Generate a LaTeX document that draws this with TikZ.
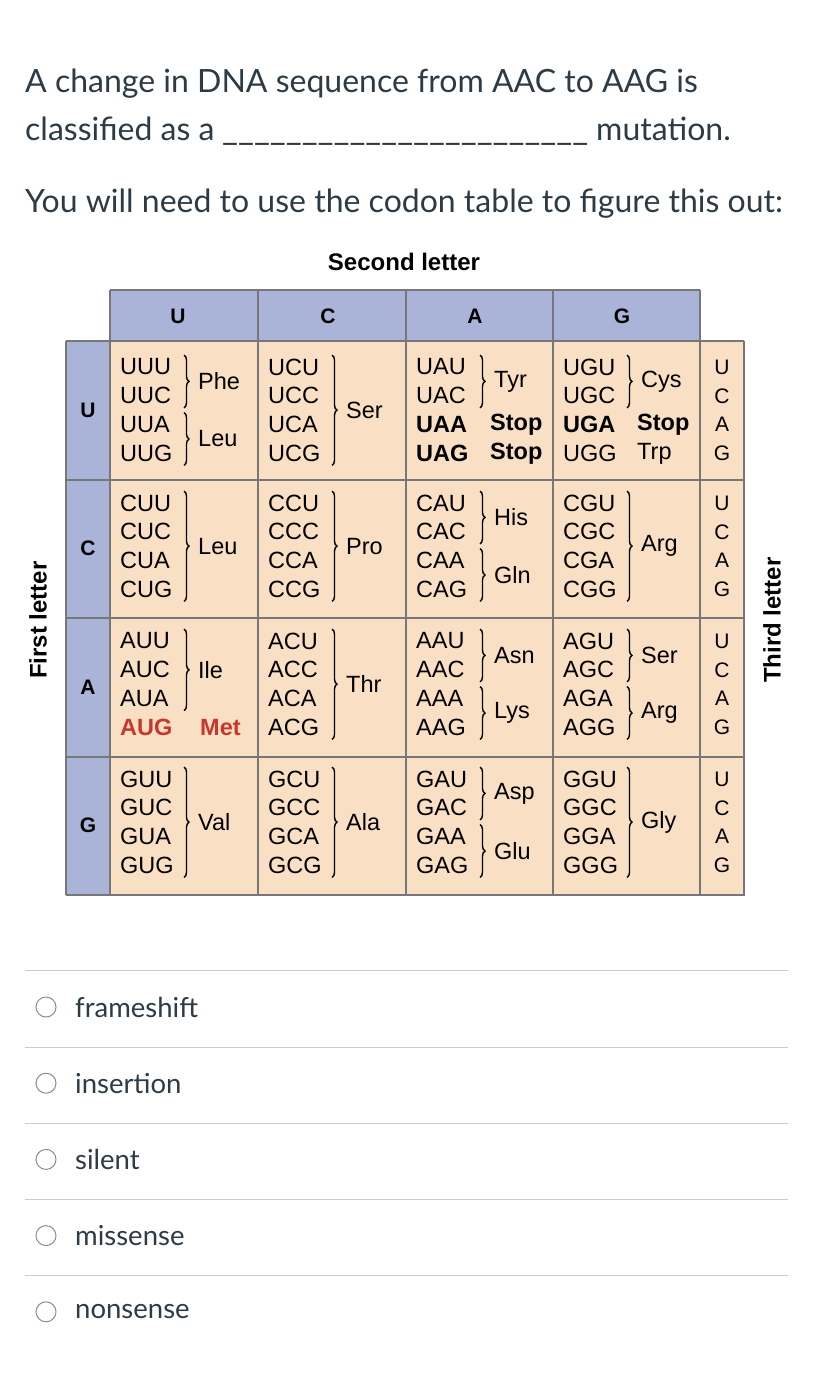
\documentclass[tikz,border=0pt]{standalone}
\usepackage{fontspec}
\setmainfont{Lato}
\newfontfamily\ar{Liberation Sans}
\usetikzlibrary{decorations.pathreplacing}
\definecolor{qtext}{HTML}{2D3B45}
\definecolor{hblue}{HTML}{AAB4D9}
\definecolor{peach}{HTML}{F9DFC4}
\definecolor{bord}{HTML}{777777}
\definecolor{metred}{HTML}{C8372D}
\newcommand\codons[5]{%
  \foreach \c [count=\i from 0] in {#3}{\node[cd] at (#1+10,#2+\i*28.8) {\c};}}
\newcommand\brc[4]{%
  \draw[br] (#1+74,#2+#3*28.8-12) -- (#1+74,#2+#4*28.8+12);}
\newcommand\amino[4]{\node[cd] at (#1+88,#2+#3*28.8) {#4};}
\begin{document}
\begin{tikzpicture}[x=1pt,y=-1pt,
  q/.style={anchor=base west,text=qtext,font=\fontsize{32}{32}\selectfont,inner sep=0},
  opt/.style={anchor=west,text=qtext,font=\fontsize{27.5}{27.5}\selectfont,inner sep=0},
  cd/.style={anchor=west,font=\ar\fontsize{23.5}{23.5}\selectfont,inner sep=0},
  cdb/.style={cd,font=\ar\bfseries\fontsize{23.5}{23.5}\selectfont},
  hd/.style={font=\ar\bfseries\fontsize{24}{24}\selectfont,inner sep=0},
  br/.style={decorate,decoration={brace,amplitude=5pt},line width=1.4pt},
  sep/.style={draw=black!20,line width=1pt},
  rad/.style={circle,draw=black!45,line width=1pt,minimum size=20pt,inner sep=0}]
\useasboundingbox (0,0) rectangle (820,1376);
\fill[white] (0,0) rectangle (820,1376);
% question
\node[q] (q1) at (25,92) {A change in DNA sequence from AAC to AAG is};
\node[q] (q2) at (25,140) {classified as a};
\node[q] (q3) at (222,140) {\resizebox{366pt}{!}{\_\_\_\_\_\_\_\_\_\_\_\_\_\_\_\_\_\_\_\_\_\_\_}};
\node[q] (q4) at (596,140) {mutation.};
\node[q] (q5) at (25,212) {You will need to use the codon table to figure this out:};
% table backgrounds
\fill[hblue] (110,290) rectangle (700,341);
\fill[hblue] (66,341) rectangle (110,895);
\fill[peach] (110,341) rectangle (744,895);
\foreach \x in {110,258,406,553,700} \draw[bord,line width=2pt] (\x,290) -- (\x,895);
\draw[bord,line width=2pt] (110,290) -- (700,290);
\draw[bord,line width=2pt] (66,341) -- (744,341);
\foreach \y in {480,618,757} \draw[bord,line width=2pt] (66,\y) -- (744,\y);
\draw[bord,line width=2pt] (66,895) -- (744,895) -- (744,341);
\draw[bord,line width=2pt] (66,341) -- (66,895);
% headers
\node[hd] (sl) at (404,262) {Second letter};
\node[hd,font=\ar\bfseries\fontsize{21}{21}\selectfont] (hU) at (178,316) {U};
\node[hd,font=\ar\bfseries\fontsize{21}{21}\selectfont] (hC) at (328,316) {C};
\node[hd,font=\ar\bfseries\fontsize{21}{21}\selectfont] (hA) at (475,316) {A};
\node[hd,font=\ar\bfseries\fontsize{21}{21}\selectfont] (hG) at (622,316) {G};
\node[hd,font=\ar\bfseries\fontsize{21}{21}\selectfont] (fU) at (88,410) {U};
\node[hd,font=\ar\bfseries\fontsize{21}{21}\selectfont] (fC) at (88,548) {C};
\node[hd,font=\ar\bfseries\fontsize{21}{21}\selectfont] (fA) at (88,687) {A};
\node[hd,font=\ar\bfseries\fontsize{21}{21}\selectfont] (fG) at (88,825) {G};
\node[hd,rotate=90] (fl) at (38,620) {First letter};
\node[hd,rotate=90] (tl) at (772,620) {Third letter};
% third letters
\foreach \r/\b in {0/367,1/503,2/641,3/779}{
  \foreach \l [count=\i from 0] in {U,C,A,G}
    \node[cd,anchor=center,font=\ar\fontsize{21}{21}\selectfont] (t\r\i) at (722,\b+\i*28.8) {\l};
}
% Row U
\codons{110}{367}{UUU,UUC,UUA,UUG}{}{}
\brc{110}{367}{0}{1}\amino{110}{367}{0.5}{Phe}
\brc{110}{367}{2}{3}\amino{110}{367}{2.5}{Leu}
\codons{258}{367}{UCU,UCC,UCA,UCG}{}{}
\brc{258}{367}{0}{3}\amino{258}{367}{1.5}{Ser}
\node[cd] at (416,367) {UAU};\node[cd] at (416,395.8) {UAC};
\brc{406}{367}{0}{1}\amino{406}{367}{0.5}{Tyr}
\node[cdb] at (416,424.6) {UAA};\node[cdb] at (490,424.6) {Stop};
\node[cdb] at (416,453.4) {UAG};\node[cdb] at (490,453.4) {Stop};
\node[cd] at (563,367) {UGU};\node[cd] at (563,395.8) {UGC};
\brc{553}{367}{0}{1}\amino{553}{367}{0.5}{Cys}
\node[cdb] at (563,424.6) {UGA};\node[cdb] at (637,424.6) {Stop};
\node[cd] at (563,453.4) {UGG};\node[cd] at (637,453.4) {Trp};
% Row C
\codons{110}{503}{CUU,CUC,CUA,CUG}{}{}
\brc{110}{503}{0}{3}\amino{110}{503}{1.5}{Leu}
\codons{258}{503}{CCU,CCC,CCA,CCG}{}{}
\brc{258}{503}{0}{3}\amino{258}{503}{1.5}{Pro}
\codons{406}{503}{CAU,CAC,CAA,CAG}{}{}
\brc{406}{503}{0}{1}\amino{406}{503}{0.5}{His}
\brc{406}{503}{2}{3}\amino{406}{503}{2.5}{Gln}
\codons{553}{503}{CGU,CGC,CGA,CGG}{}{}
\brc{553}{503}{0}{3}\amino{553}{503}{1.5}{Arg}
% Row A
\node[cd] at (120,641) {AUU};\node[cd] at (120,669.8) {AUC};\node[cd] at (120,698.6) {AUA};
\brc{110}{641}{0}{2}\amino{110}{641}{1}{Ile}
\node[cdb,text=metred] at (120,727.4) {AUG};\node[cdb,text=metred] at (200,727.4) {Met};
\codons{258}{641}{ACU,ACC,ACA,ACG}{}{}
\brc{258}{641}{0}{3}\amino{258}{641}{1.5}{Thr}
\codons{406}{641}{AAU,AAC,AAA,AAG}{}{}
\brc{406}{641}{0}{1}\amino{406}{641}{0.5}{Asn}
\brc{406}{641}{2}{3}\amino{406}{641}{2.5}{Lys}
\codons{553}{641}{AGU,AGC,AGA,AGG}{}{}
\brc{553}{641}{0}{1}\amino{553}{641}{0.5}{Ser}
\brc{553}{641}{2}{3}\amino{553}{641}{2.5}{Arg}
% Row G
\codons{110}{779}{GUU,GUC,GUA,GUG}{}{}
\brc{110}{779}{0}{3}\amino{110}{779}{1.5}{Val}
\codons{258}{779}{GCU,GCC,GCA,GCG}{}{}
\brc{258}{779}{0}{3}\amino{258}{779}{1.5}{Ala}
\codons{406}{779}{GAU,GAC,GAA,GAG}{}{}
\brc{406}{779}{0}{1}\amino{406}{779}{0.5}{Asp}
\brc{406}{779}{2}{3}\amino{406}{779}{2.5}{Glu}
\codons{553}{779}{GGU,GGC,GGA,GGG}{}{}
\brc{553}{779}{0}{3}\amino{553}{779}{1.5}{Gly}
% options
\foreach \y in {970,1047,1123,1199,1275} \draw[sep] (25,\y) -- (788,\y);
\foreach \t [count=\i from 0] in {frameshift,insertion,silent,missense,nonsense}{
  \node[rad] (r\i) at (46,1007+\i*76.2) {};
  \node[opt] (o\i) at (75,1007+\i*76.2) {\t};
}
\end{tikzpicture}
\end{document}
